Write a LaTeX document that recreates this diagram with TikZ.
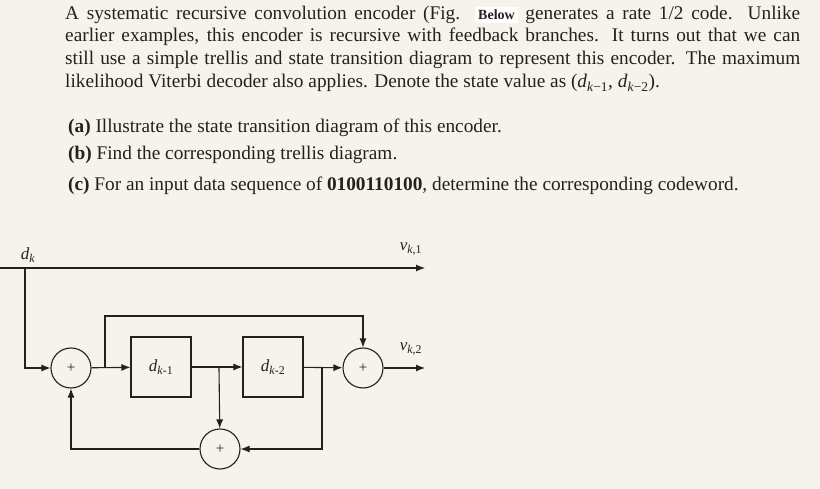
\documentclass[tikz,border=0pt]{standalone}
\usepackage{fontspec}
\setmainfont{Liberation Serif}
\usetikzlibrary{arrows.meta}
\definecolor{paper}{RGB}{246,243,237}
\definecolor{ink}{RGB}{35,32,30}
\newcommand{\iv}[2]{\textit{#1}\textsubscript{#2}}
\begin{document}
\begin{tikzpicture}[x=1pt,y=-1pt,color=ink,
  txt/.style={anchor=base west,inner sep=0pt,font=\fontsize{19.3}{22}\selectfont},
  adder/.style={draw,circle,minimum size=40pt,inner sep=0pt,line width=1.1pt,font=\fontsize{15}{15}\selectfont},
  reg/.style={draw,minimum width=60pt,minimum height=60pt,line width=1.1pt,font=\fontsize{17}{17}\selectfont},
  wire/.style={line width=1.1pt,-{Latex[length=9pt,width=7pt]}},
  lbl/.style={inner sep=0pt,font=\fontsize{17}{17}\selectfont}]
\fill[paper] (0,0) rectangle (820,489);
\useasboundingbox (0,0) rectangle (820,489);
\node[txt] (l1) at (65,20) {\makebox[735pt][s]{A systematic recursive convolution encoder (Fig. \colorbox{white}{\fontsize{14}{14}\selectfont\textbf{Below}} generates a rate 1/2 code. Unlike}};
\node[txt] (l2) at (65,42) {\makebox[735pt][s]{earlier examples, this encoder is recursive with feedback branches. It turns out that we can}};
\node[txt] (l3) at (65,65) {\makebox[735pt][s]{still use a simple trellis and state transition diagram to represent this encoder. The maximum}};
\node[txt] (l4) at (65,88) {likelihood Viterbi decoder also applies. Denote the state value as (\iv{d}{\textit{k}−1}, \iv{d}{\textit{k}−2}).};
\node[txt] (ia) at (68,133) {\textbf{(a)} Illustrate the state transition diagram of this encoder.};
\node[txt] (ib) at (68,160) {\textbf{(b)} Find the corresponding trellis diagram.};
\node[txt] (ic) at (68,191) {\textbf{(c)} For an input data sequence of \textbf{0100110100}, determine the corresponding codeword.};
% diagram
\coordinate (in) at (0,268);
\coordinate (tap) at (25,268);
\coordinate (o1) at (425,268);
\node[adder] (a1) at (71,368) {+};
\node[reg] (r1) at (161,367) {\iv{d}{\textit{k}-1}};
\node[reg] (r2) at (273,367) {\iv{d}{\textit{k}-2}};
\node[adder] (a2) at (363,368) {+};
\node[adder] (a3) at (220,449) {+};
\coordinate (o2) at (425,368);
\coordinate (b1) at (105,368);
\coordinate (b2) at (219,368);
\coordinate (b3) at (322,368);
\node[lbl] (dk) at (28,255) {\iv{d}{\textit{k}}};
\node[lbl] (v1) at (411,249) {\iv{v}{\textit{k},1}};
\node[lbl] (v2) at (411,349) {\iv{v}{\textit{k},2}};
\draw[wire] (in) -- (o1);
\draw[wire] (tap) |- (a1);
\draw[wire] (a1) -- (r1);
\draw[wire] (r1) -- (r2);
\draw[wire] (r2) -- (a2);
\draw[wire] (a2) -- (o2);
\draw[wire] (b1) |- (a2.north |- 0,316) -- (a2.north);
\draw[wire] (b2) -- (a3);
\draw[wire] (b3) |- (a3);
\draw[wire] (a3) -| (a1);
\end{tikzpicture}
\end{document}
